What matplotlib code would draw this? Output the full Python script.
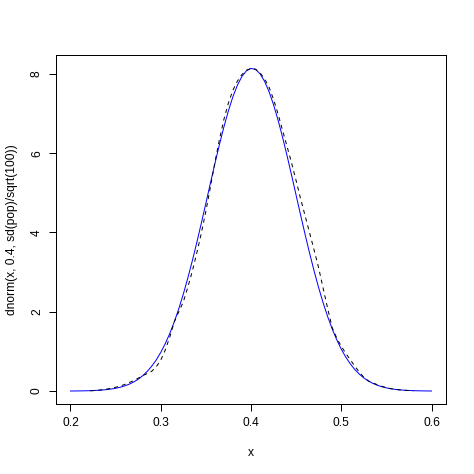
import matplotlib
matplotlib.use("Agg")
import matplotlib.pyplot as plt

plt.rcParams['font.family'] = ['Liberation Sans', 'DejaVu Sans']
plt.rcParams['font.size'] = 12

x_norm = [0.200, 0.205, 0.210, 0.215, 0.220, 0.225, 0.230, 0.235, 0.240, 0.245,
          0.250, 0.255, 0.260, 0.265, 0.270, 0.275, 0.280, 0.285, 0.290, 0.295,
          0.300, 0.305, 0.310, 0.315, 0.320, 0.325, 0.330, 0.335, 0.340, 0.345,
          0.350, 0.355, 0.360, 0.365, 0.370, 0.375, 0.380, 0.385, 0.390, 0.395,
          0.400, 0.405, 0.410, 0.415, 0.420, 0.425, 0.430, 0.435, 0.440, 0.445,
          0.450, 0.455, 0.460, 0.465, 0.470, 0.475, 0.480, 0.485, 0.490, 0.495,
          0.500, 0.505, 0.510, 0.515, 0.520, 0.525, 0.530, 0.535, 0.540, 0.545,
          0.550, 0.555, 0.560, 0.565, 0.570, 0.575, 0.580, 0.585, 0.590, 0.595,
          0.600]
y_norm = [0.002, 0.003, 0.004, 0.006, 0.009, 0.013, 0.019, 0.026, 0.037, 0.051,
          0.071, 0.096, 0.130, 0.173, 0.228, 0.298, 0.386, 0.494, 0.626, 0.784,
          0.973, 1.194, 1.451, 1.745, 2.076, 2.445, 2.849, 3.286, 3.751, 4.236,
          4.736, 5.239, 5.735, 6.214, 6.663, 7.071, 7.426, 7.717, 7.937, 8.079,
          8.138, 8.113, 8.004, 7.814, 7.551, 7.220, 6.832, 6.399, 5.930, 5.439,
          4.937, 4.436, 3.943, 3.469, 3.020, 2.602, 2.219, 1.873, 1.564, 1.293,
          1.057, 0.856, 0.686, 0.544, 0.427, 0.331, 0.255, 0.194, 0.146, 0.109,
          0.080, 0.058, 0.042, 0.030, 0.021, 0.015, 0.010, 0.007, 0.005, 0.003,
          0.002]

# densidad de las medias muestrales (linea discontinua)
x_dens = [0.222, 0.225, 0.230, 0.235, 0.240, 0.245, 0.250, 0.255, 0.260, 0.265,
          0.270, 0.275, 0.280, 0.285, 0.290, 0.295, 0.300, 0.305, 0.310, 0.315,
          0.320, 0.325, 0.330, 0.335, 0.340, 0.345, 0.350, 0.355, 0.360, 0.365,
          0.370, 0.375, 0.380, 0.385, 0.390, 0.395, 0.400, 0.405, 0.410, 0.415,
          0.420, 0.425, 0.430, 0.435, 0.440, 0.445, 0.450, 0.455, 0.460, 0.465,
          0.470, 0.475, 0.480, 0.485, 0.490, 0.495, 0.500, 0.505, 0.510, 0.515,
          0.520, 0.525, 0.530, 0.535, 0.540, 0.545, 0.550, 0.555, 0.560, 0.565,
          0.570, 0.575, 0.580]
y_dens = [0.006, 0.011, 0.020, 0.033, 0.050, 0.070, 0.095, 0.126, 0.166, 0.213,
          0.265, 0.324, 0.390, 0.440, 0.500, 0.610, 0.780, 1.035, 1.360, 1.745,
          1.998, 2.248, 2.616, 3.026, 3.487, 3.984, 4.535, 5.139, 5.768, 6.338,
          6.854, 7.266, 7.592, 7.820, 7.985, 8.092, 8.138, 8.118, 8.027, 7.875,
          7.664, 7.356, 6.988, 6.570, 6.165, 5.748, 5.306, 4.845, 4.416, 3.982,
          3.549, 3.100, 2.583, 2.076, 1.596, 1.338, 1.129, 0.951, 0.790, 0.630,
          0.474, 0.350, 0.255, 0.206, 0.160, 0.119, 0.086, 0.061, 0.043, 0.030,
          0.020, 0.013, 0.008]

x_ticks = [0.2, 0.3, 0.4, 0.5, 0.6]
y_ticks = [0, 2, 4, 6, 8]

fig = plt.figure(figsize=(474 / 72, 474 / 72), dpi=72)
ax = fig.add_axes([56 / 474, 70 / 474, 390 / 474, 349 / 474])

ax.plot(x_norm, y_norm, color='blue', lw=1)
ax.plot(x_dens, y_dens, color='black', lw=1, dashes=(4, 4))

ax.set_xlim(0.184, 0.616)
ax.set_ylim(-0.326, 8.476)
ax.set_xticks(x_ticks)
ax.set_xticklabels([str(v) for v in x_ticks])
ax.set_yticks(y_ticks)
ax.set_yticklabels([str(v) for v in y_ticks], rotation=90, va='center')
ax.tick_params(direction='out', length=7, width=1, pad=6)

for s in ax.spines.values():
    s.set_linewidth(1)

ax.set_xlabel('x', labelpad=18)
ax.set_ylabel('dnorm(x, 0.4, sd(pop)/sqrt(100))', labelpad=13)

fig.savefig('out.png', dpi=72)
